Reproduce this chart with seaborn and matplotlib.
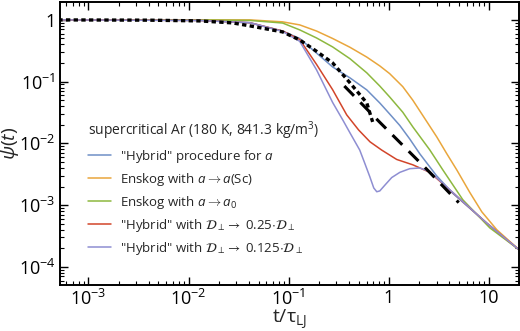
import numpy as np
import pandas as pd
import matplotlib
matplotlib.use("Agg")
import matplotlib.pyplot as plt
import matplotlib.ticker as mticker
import seaborn as sns

sns.set_theme(style="ticks")
plt.rcParams["font.family"] = ["Open Sans", "DejaVu Sans"]
plt.rcParams["mathtext.fontset"] = "custom"
plt.rcParams["mathtext.rm"] = "Open Sans"
plt.rcParams["mathtext.it"] = "Open Sans:italic"
plt.rcParams["mathtext.bf"] = "Open Sans:bold"

# psi(t) curves (t in units of tau_LJ)
hybrid_t = [5e-4, 0.0129, 0.041, 0.087, 0.129, 0.19, 0.275, 0.41, 0.603, 0.813, 1.02, 1.29, 1.62, 2.04,
            3.0, 4.37, 9.55, 20.0]
hybrid_psi = [1.0, 0.98, 0.9, 0.66, 0.5, 0.29, 0.173, 0.115, 0.0736, 0.0452, 0.03, 0.0195, 0.0118, 0.0068,
              0.003, 0.00155, 0.00051, 0.00019]

sc_t = [5e-4, 0.01, 0.041, 0.087, 0.129, 0.19, 0.275, 0.41, 0.603, 0.813, 1.02, 1.38, 1.74, 2.3, 3.02,
        3.8, 4.79, 6.46, 8.5, 12.0, 20.0]
sc_psi = [1.0, 1.0, 1.0, 0.93, 0.83, 0.66, 0.5, 0.36, 0.25, 0.18, 0.135, 0.083, 0.05, 0.025, 0.0127,
          0.0068, 0.0037, 0.0016, 0.00078, 0.0004, 0.00019]

a0_t = [5e-4, 0.01, 0.041, 0.087, 0.129, 0.19, 0.275, 0.41, 0.603, 0.813, 1.02, 1.38, 1.74, 2.57, 3.47,
        5.5, 10.2, 20.0]
a0_psi = [1.0, 1.0, 0.98, 0.89, 0.689, 0.51, 0.365, 0.235, 0.139, 0.085, 0.0566, 0.032, 0.0185, 0.00784,
          0.00372, 0.00122, 0.00043, 0.00019]

d25_t = [5e-4, 0.0129, 0.041, 0.087, 0.129, 0.19, 0.275, 0.38, 0.5, 0.65, 0.85, 1.2, 1.74, 2.57, 4.37,
         9.55, 20.0]
d25_psi = [1.0, 0.98, 0.9, 0.66, 0.48, 0.19, 0.074, 0.029, 0.0165, 0.0106, 0.0078, 0.0055, 0.0045, 0.0034,
           0.00159, 0.00051, 0.00019]

d125_t = [5e-4, 0.0129, 0.041, 0.087, 0.129, 0.19, 0.275, 0.347, 0.41, 0.513, 0.575, 0.646, 0.708,
          0.759, 0.813, 0.912, 1.07, 1.29, 1.62, 2.04, 2.57, 4.37, 9.55, 20.0]
d125_psi = [1.0, 0.98, 0.9, 0.65, 0.45, 0.155, 0.046, 0.024, 0.0148, 0.0078, 0.0048, 0.0029, 0.0019,
            0.00165, 0.0017, 0.0021, 0.0028, 0.0034, 0.0039, 0.004, 0.0035, 0.0016, 0.00051, 0.00019]

short_t = [5e-4, 0.004, 0.0129, 0.0275, 0.041, 0.087, 0.129, 0.19, 0.275, 0.41, 0.603, 0.69]
short_psi = [1.0, 0.99, 0.963, 0.894, 0.8, 0.639, 0.474, 0.31, 0.201, 0.0955, 0.0452, 0.0223]

long_t = [0.36, 0.813, 2.4, 5.0]
long_psi = [0.085, 0.022, 0.0038, 0.0011]

labels = ['"Hybrid" procedure for $a$',
          r'Enskog with $a \rightarrow a$(Sc)',
          r'Enskog with $a \rightarrow a_0$',
          r'"Hybrid" with $\mathcal{D}_{\perp} \rightarrow$ 0.25$\cdot\mathcal{D}_{\perp}$',
          r'"Hybrid" with $\mathcal{D}_{\perp} \rightarrow$ 0.125$\cdot\mathcal{D}_{\perp}$']
colors = ["#6f8fc6", "#e9a63c", "#8db83f", "#d2452a", "#8e8ed2"]

fig = plt.figure(figsize=(5.2, 3.31), dpi=100)
ax = fig.add_axes([0.1154, 0.139, 0.8827, 0.855])

series = [(hybrid_t, hybrid_psi), (sc_t, sc_psi), (a0_t, a0_psi), (d25_t, d25_psi), (d125_t, d125_psi)]
for (t, psi), lab, col in zip(series, labels, colors):
    sns.lineplot(x=t, y=psi, ax=ax, color=col, lw=1.1, label=lab)

sns.lineplot(x=short_t, y=short_psi, ax=ax, color="black", lw=2.4, legend=False)
ax.lines[-1].set_linestyle((0, (1.3, 1.0)))
sns.lineplot(x=long_t, y=long_psi, ax=ax, color="black", lw=2.2, legend=False)
ax.lines[-1].set_linestyle((0, (4.5, 3.0)))

ax.set_xscale("log")
ax.set_yscale("log")
ax.set_xlim(5.2e-4, 20)
ax.set_ylim(5.1e-5, 1.95)


def tick_fmt(v, pos):
    if v == 1:
        return "1"
    if v == 10:
        return "10"
    return r"10$^{\mathregular{%d}}$" % round(np.log10(v))


ax.xaxis.set_major_locator(mticker.FixedLocator([1e-3, 1e-2, 1e-1, 1, 10]))
ax.yaxis.set_major_locator(mticker.FixedLocator([1e-4, 1e-3, 1e-2, 1e-1, 1]))
ax.xaxis.set_major_formatter(mticker.FuncFormatter(tick_fmt))
ax.yaxis.set_major_formatter(mticker.FuncFormatter(tick_fmt))
ax.xaxis.set_minor_locator(mticker.LogLocator(subs=np.arange(2, 10), numticks=20))
ax.yaxis.set_minor_locator(mticker.LogLocator(subs=np.arange(2, 10), numticks=20))
ax.xaxis.set_minor_formatter(mticker.NullFormatter())
ax.yaxis.set_minor_formatter(mticker.NullFormatter())

ax.tick_params(which="both", direction="in", top=True, right=True, colors="black")
ax.tick_params(which="major", length=6, width=1.0, labelsize=13, pad=3)
ax.tick_params(which="minor", length=3, width=0.8)
for sp in ax.spines.values():
    sp.set_linewidth(1.4)
    sp.set_color("black")

ax.set_xlabel("t/τ$_{\\mathregular{LJ}}$", fontsize=14, labelpad=-1)
ax.set_ylabel(r"$\psi(t)$", fontsize=14)
ax.yaxis.set_label_coords(-0.084, 0.5)

leg = ax.legend(loc="upper left", bbox_to_anchor=(0.061, 0.585), frameon=False, fontsize=9.5,
                title="supercritical Ar (180 K, 841.3 kg/m$^{\\mathregular{3}}$)",
                title_fontsize=10, handlelength=1.75, handletextpad=0.7, labelspacing=0.45,
                alignment="left", borderaxespad=0, borderpad=0)
for txt in leg.get_texts()[3:]:
    txt.set_math_fontfamily("stix")

fig.savefig("out.png", dpi=100)
